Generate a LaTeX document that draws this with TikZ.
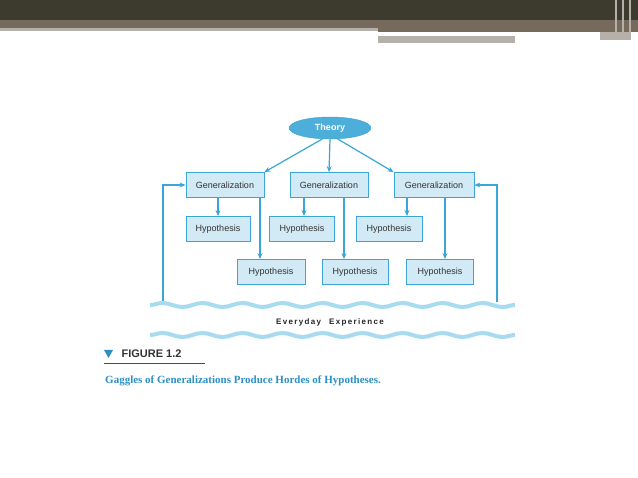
\documentclass[tikz,border=0pt]{standalone}
\usepackage{fontspec}
\setmainfont{Liberation Serif}
\setsansfont{Liberation Sans}
\usetikzlibrary{arrows.meta,decorations.pathmorphing,shapes.geometric}
\definecolor{bar}{HTML}{3D3B2E}
\definecolor{band}{HTML}{756A5C}
\definecolor{lgray}{HTML}{B5B0AA}
\definecolor{bfill}{HTML}{D2EAF5}
\definecolor{bline}{HTML}{3AA5D6}
\definecolor{wave}{HTML}{A8DAF0}
\definecolor{capblue}{HTML}{2E8FC4}
\tikzset{
  box/.style={draw=bline,fill=bfill,line width=0.8pt,minimum height=25pt,font=\sffamily\fontsize{9}{10}\selectfont,text=black!80,inner sep=2pt},
  arr/.style={draw=bline,line width=1.2pt,-{Stealth[length=6pt,width=5pt]}},
  wv/.style={draw=wave,line width=4pt,decorate,decoration={snake,amplitude=2pt,segment length=40pt}}
}
\begin{document}
\begin{tikzpicture}[x=1pt,y=-1pt]
\useasboundingbox (0,0) rectangle (638,478);
\fill[lgray] (0,0) rectangle (638,31);
\fill[band] (0,0) rectangle (638,28);
\fill[band] (378,0) rectangle (638,32);
\fill[white] (378,33) rectangle (600,35);
\fill[lgray] (378,36) rectangle (515,43);
\fill[lgray] (600,32) rectangle (630,40);
\fill[bar] (0,0) rectangle (638,20);
\foreach \x in {615,622,629}{\fill[lgray] (\x,0) rectangle (\x+2,40);}
\node[ellipse,draw=bline,fill=bline!90,minimum width=82pt,minimum height=22pt,inner sep=0pt,text=white,font=\sffamily\bfseries\fontsize{9}{10}\selectfont] (t) at (330,128) {Theory};
\node[box,minimum width=78pt] (g1) at (225,185) {Generalization};
\node[box,minimum width=78pt] (g2) at (329,185) {Generalization};
\node[box,minimum width=80pt] (g3) at (434,185) {Generalization};
\node[box,minimum width=64pt] (h1) at (218,229) {Hypothesis};
\node[box,minimum width=65pt] (h2) at (302,229) {Hypothesis};
\node[box,minimum width=66pt] (h3) at (389,229) {Hypothesis};
\node[box,minimum width=68pt] (h4) at (271,272) {Hypothesis};
\node[box,minimum width=66pt] (h5) at (355,272) {Hypothesis};
\node[box,minimum width=67pt] (h6) at (440,272) {Hypothesis};
\coordinate (xa) at (260,0);
\coordinate (xb) at (304,0);
\coordinate (xc) at (344,0);
\coordinate (xd) at (407,0);
\coordinate (xe) at (445,0);
\draw[arr] (t.235) -- (g1.north east);
\draw[arr] (t.south) -- (g2.north);
\draw[arr] (t.305) -- (g3.north west);
\draw[arr] (g1.south -| h1) -- (h1.north);
\draw[arr] (g1.south -| xa) -- (h4.north -| xa);
\draw[arr] (g2.south -| xb) -- (h2.north -| xb);
\draw[arr] (g2.south -| xc) -- (h5.north -| xc);
\draw[arr] (g3.south -| xd) -- (h3.north -| xd);
\draw[arr] (g3.south -| xe) -- (h6.north -| xe);
\coordinate (l) at (163,302);
\coordinate (r) at (497,302);
\draw[arr] (l) |- (g1.west);
\draw[arr] (r) |- (g3.east);
\draw[wv] (150,305) -- (515,305);
\draw[wv] (150,335) -- (515,335);
\node[font=\sffamily\bfseries\fontsize{8}{9}\selectfont,text=black!85] (ee) at (330,322) {E\,v\,e\,r\,y\,d\,a\,y\quad E\,x\,p\,e\,r\,i\,e\,n\,c\,e};
\fill[capblue] (104,350) -- (113,350) -- (108.5,358) -- cycle;
\node[anchor=west,font=\sffamily\bfseries\fontsize{11}{12}\selectfont,text=black!80] (fig) at (118,354) {FIGURE 1.2};
\draw[black!70,line width=0.6pt] (104,363) -- (205,363);
\node[anchor=west,font=\rmfamily\bfseries\fontsize{11}{12}\selectfont,text=capblue,inner sep=0pt] (c) at (105,381) {Gaggles of Generalizations Produce Hordes of Hypotheses.};
\end{tikzpicture}
\end{document}
